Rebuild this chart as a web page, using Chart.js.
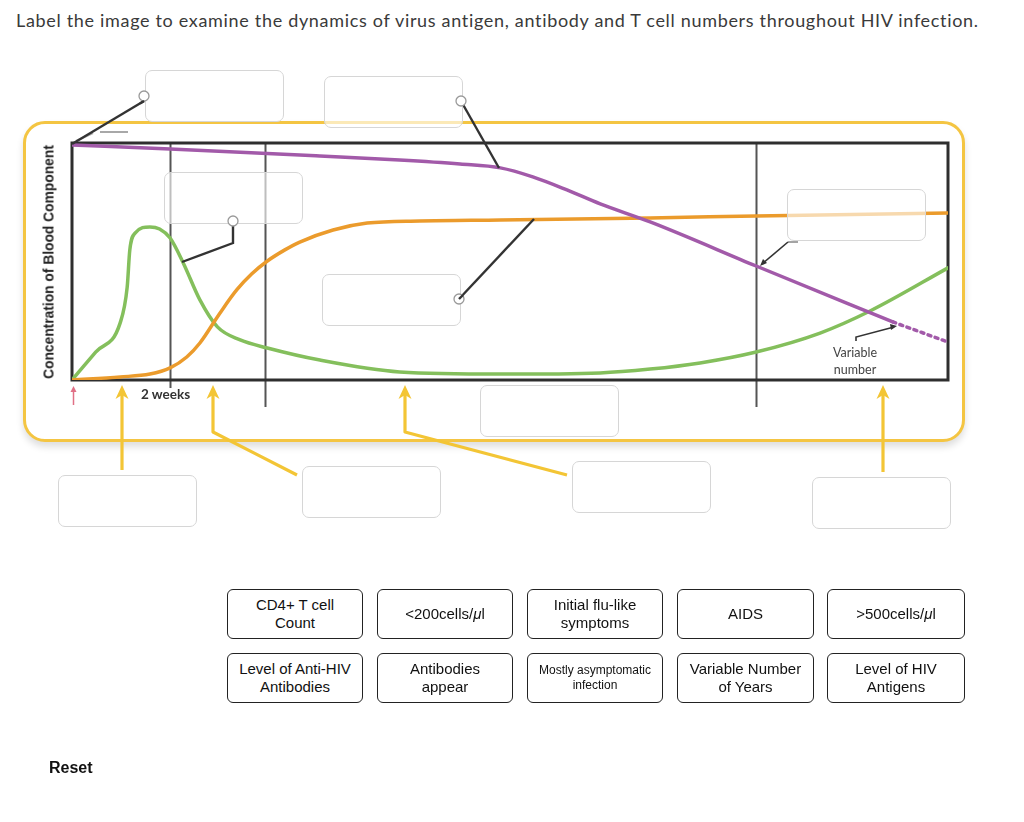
<!DOCTYPE html>
<html>
<head>
<meta charset="utf-8">
<script src="https://cdn.jsdelivr.net/npm/chart.js@4.4.1/dist/chart.umd.min.js"></script>
<style>
  html, body { margin: 0; padding: 0; background: #fff; }
  body { width: 1024px; height: 822px; position: relative; overflow: hidden; font-family: "Liberation Sans", Arial, sans-serif; }
  .abs { position: absolute; }
  #title { left: 16px; top: 9px; font-family: Lato, "Open Sans", sans-serif; font-size: 18px; letter-spacing: 0.68px; color: #3a3a3a; white-space: nowrap; }
  #ybox { left: 23px; top: 121px; width: 942px; height: 321px; box-sizing: border-box; border: 3px solid #f4c542; border-radius: 22px; box-shadow: 0 5px 7px rgba(0,0,0,0.13); background: #fff; }
  #chart { left: 0; top: 0; }
  #ylabel { left: 49px; top: 262px; transform: translate(-50%, -50%) rotate(-90deg); font-weight: bold; font-size: 13.8px; color: #222; white-space: nowrap; }
  .drop { position: absolute; box-sizing: border-box; border: 1px solid #d6d6d6; border-radius: 7px; background: rgba(255,255,255,0.62); }
  .btn { position: absolute; box-sizing: border-box; border: 1.5px solid #222; border-radius: 6px; background: #fff; display: flex; align-items: center; justify-content: center; text-align: center; font-size: 15px; line-height: 18px; color: #111; }
  .note { font-family: Lato, sans-serif; color: #444; white-space: nowrap; }
  svg { position: absolute; left: 0; top: 0; }
</style>
</head>
<body>
<div id="title" class="abs">Label the image to examine the dynamics of virus antigen, antibody and T cell numbers throughout HIV infection.</div>
<div id="ybox" class="abs"></div>
<canvas id="chart" class="abs" width="1024" height="822"></canvas>
<div id="ylabel" class="abs">Concentration of Blood Component</div>
<div class="abs note" style="left:141px;top:386px;font-size:13.5px;font-weight:700;color:#333;">2 weeks</div>
<div class="abs note" style="left:855px;top:344px;transform:translateX(-50%);font-size:12.5px;text-align:center;line-height:17px;">Variable<br>number</div>

<svg width="1024" height="822" id="overlay">
  <g stroke="#f3c535" stroke-width="3.2" fill="none" stroke-linejoin="round">
    <polyline points="122,470 122,392"/>
    <polyline points="297,475 213,432 213,392"/>
    <polyline points="567,475 405,432 405,392"/>
    <polyline points="883,472 883,392"/>
  </g>
  <g fill="#f3c535">
    <path d="M115.5,399 L122,385 L128.5,399 L122,395 Z"/>
    <path d="M206.5,399 L213,385 L219.5,399 L213,395 Z"/>
    <path d="M398.5,399 L405,385 L411.5,399 L405,395 Z"/>
    <path d="M876.5,399 L883,385 L889.5,399 L883,395 Z"/>
  </g>
  <line x1="73.5" y1="405" x2="73.5" y2="390" stroke="#e07086" stroke-width="1.5"/>
  <path d="M70.5,392 L73.5,386 L76.5,392 Z" fill="#e07086"/>
  <line x1="100" y1="132" x2="128" y2="132" stroke="#a8a8a8" stroke-width="2"/>
  <line x1="76" y1="141" x2="93" y2="133" stroke="#b0b0b0" stroke-width="2"/>
  <line x1="788" y1="242" x2="798" y2="242" stroke="#9a9a9a" stroke-width="1.8"/>
  <g stroke="#333" stroke-width="2.4" fill="none">
    <line x1="144" y1="101" x2="72" y2="144"/>
    <line x1="461" y1="101" x2="499" y2="168"/>
    <polyline points="233,226 233,243 182,262"/>
    <line x1="459" y1="299" x2="534" y2="219"/>
  </g>
  <g stroke="#333" stroke-width="1.6" fill="none">
    <polyline points="788,242 762,264"/>
    <polyline points="856,341 856,337 894,327"/>
  </g>
  <path d="M760,266 L763,259 L767,263 Z" fill="#333"/>
  <path d="M897,326 L890,324 L891,330 Z" fill="#333"/>
</svg>

<div class="drop" style="left:145px;top:70px;width:139px;height:52px;"></div>
<div class="drop" style="left:324px;top:76px;width:139px;height:52px;"></div>
<div class="drop" style="left:164px;top:172px;width:139px;height:52px;"></div>
<div class="drop" style="left:322px;top:274px;width:139px;height:52px;"></div>
<div class="drop" style="left:787px;top:189px;width:139px;height:52px;"></div>
<div class="drop" style="left:480px;top:385px;width:139px;height:52px;"></div>
<div class="drop" style="left:58px;top:475px;width:139px;height:52px;"></div>
<div class="drop" style="left:302px;top:466px;width:139px;height:52px;"></div>
<div class="drop" style="left:572px;top:461px;width:139px;height:52px;"></div>
<div class="drop" style="left:812px;top:477px;width:139px;height:52px;"></div>

<svg width="1024" height="822" style="pointer-events:none;">
  <g fill="#fff" stroke="#9a9a9a" stroke-width="1.3">
    <circle cx="144" cy="96" r="5"/>
    <circle cx="461" cy="101" r="5"/>
    <circle cx="233" cy="221" r="5"/>
    <circle cx="459" cy="299" r="5"/>
  </g>
  <g stroke="#333" stroke-width="2.4">
    <line x1="144" y1="101" x2="140" y2="103.5"/>
    <line x1="459" y1="299" x2="463" y2="295"/>
  </g>
</svg>

<div class="btn" style="left:227px;top:589px;width:136px;height:50px;">CD4+ T cell<br>Count</div>
<div class="btn" style="left:377px;top:589px;width:136px;height:50px;"><span>&lt;200cells/<i>μ</i>l</span></div>
<div class="btn" style="left:527px;top:589px;width:136px;height:50px;">Initial flu-like<br>symptoms</div>
<div class="btn" style="left:677px;top:589px;width:137px;height:50px;">AIDS</div>
<div class="btn" style="left:827px;top:589px;width:138px;height:50px;"><span>&gt;500cells/<i>μ</i>l</span></div>
<div class="btn" style="left:227px;top:653px;width:136px;height:50px;">Level of Anti-HIV<br>Antibodies</div>
<div class="btn" style="left:377px;top:653px;width:136px;height:50px;">Antibodies<br>appear</div>
<div class="btn" style="left:527px;top:653px;width:136px;height:50px;font-size:12px;line-height:15px;">Mostly asymptomatic<br>infection</div>
<div class="btn" style="left:677px;top:653px;width:137px;height:50px;">Variable Number<br>of Years</div>
<div class="btn" style="left:827px;top:653px;width:138px;height:50px;">Level of HIV<br>Antigens</div>

<div class="abs" style="left:49px;top:759px;font-weight:bold;font-size:16px;color:#111;">Reset</div>

<script>
// ---- data (x = relative time 0..100, y = relative concentration 0..100)
const tcellX     = [0, 11.2, 28.3, 37.4, 44.3, 48.9, 52.6, 56.5, 60.3, 66.0, 78.1, 93.7];
const tcellY     = [99.2, 97.5, 94.5, 92.8, 91.1, 89.5, 85.7, 80.2, 74.3, 66.7, 48.1, 24.5];
const tcellVarX  = [93.7, 100];
const tcellVarY  = [24.5, 16.0];
const antibodyX  = [0, 5.5, 8.9, 11.2, 13.1, 14.6, 16.9, 18.8, 20.5, 22.3, 24.3, 26.0, 29.8, 33.7, 39.7, 48.9, 66.0, 78.1, 100];
const antibodyY  = [0, 1.3, 2.5, 5.1, 9.7, 15.6, 28.3, 38.0, 44.7, 50.2, 54.9, 58.2, 63.3, 66.2, 67.1, 67.5, 68.4, 69.2, 70.5];
const antigenX   = [0, 2.7, 5.5, 6.3, 6.6, 7.2, 8.9, 10.0, 11.2, 12.7, 14.6, 16.6, 19.2, 22.3, 28.3, 37.4, 48.9, 60.3, 66.0, 71.7, 78.1, 85.4, 91.1, 100];
const antigenY   = [0, 11.8, 24.1, 39.2, 54.9, 62.0, 64.6, 63.7, 59.9, 49.4, 33.8, 22.4, 16.9, 13.5, 8.4, 3.4, 2.5, 3.0, 4.6, 7.2, 11.8, 19.8, 29.1, 47.3];
// phase dividers (x values) and how far below the axis each extends (px)
const phaseX     = [11.2, 22.0, 78.1];
const phaseDrop  = [8, 27, 27];

const pts = (xs, ys) => xs.map((x, i) => ({x, y: ys[i]}));

const frame = {
  id: 'frame',
  beforeDatasetsDraw(chart) {
    const {ctx, chartArea: a, scales: {x}} = chart;
    ctx.save();
    ctx.strokeStyle = '#555';
    ctx.lineWidth = 2;
    phaseX.forEach((v, i) => {
      const px = Math.round(x.getPixelForValue(v)) + 0.5;
      ctx.beginPath();
      ctx.moveTo(px, a.top);
      ctx.lineTo(px, a.bottom + phaseDrop[i]);
      ctx.stroke();
    });
    ctx.strokeStyle = '#2e2e2e';
    ctx.lineWidth = 3;
    ctx.strokeRect(a.left, a.top, a.right - a.left, a.bottom - a.top);
    ctx.restore();
  }
};

new Chart(document.getElementById('chart'), {
  type: 'line',
  data: {
    datasets: [
      { label: 'CD4+ T cells', data: pts(tcellX, tcellY), borderColor: '#a25aa9', borderWidth: 3.5 },
      { label: 'CD4+ T cells (variable)', data: pts(tcellVarX, tcellVarY), borderColor: '#a25aa9', borderWidth: 3.5, borderDash: [3, 4.5] },
      { label: 'Anti-HIV antibodies', data: pts(antibodyX, antibodyY), borderColor: '#eb9b2c', borderWidth: 3.5 },
      { label: 'HIV antigens', data: pts(antigenX, antigenY), borderColor: '#84bf5c', borderWidth: 3.5 }
    ]
  },
  options: {
    responsive: false,
    animation: false,
    devicePixelRatio: 1,
    layout: { padding: { left: 72, right: 76, top: 143, bottom: 442 } },
    elements: { point: { radius: 0 }, line: { cubicInterpolationMode: 'monotone', fill: false, borderCapStyle: 'round' } },
    scales: {
      x: { type: 'linear', min: 0, max: 100, display: false },
      y: { type: 'linear', min: 0, max: 100, display: false }
    },
    plugins: { legend: { display: false }, tooltip: { enabled: false } }
  },
  plugins: [frame]
});
</script>
</body>
</html>
